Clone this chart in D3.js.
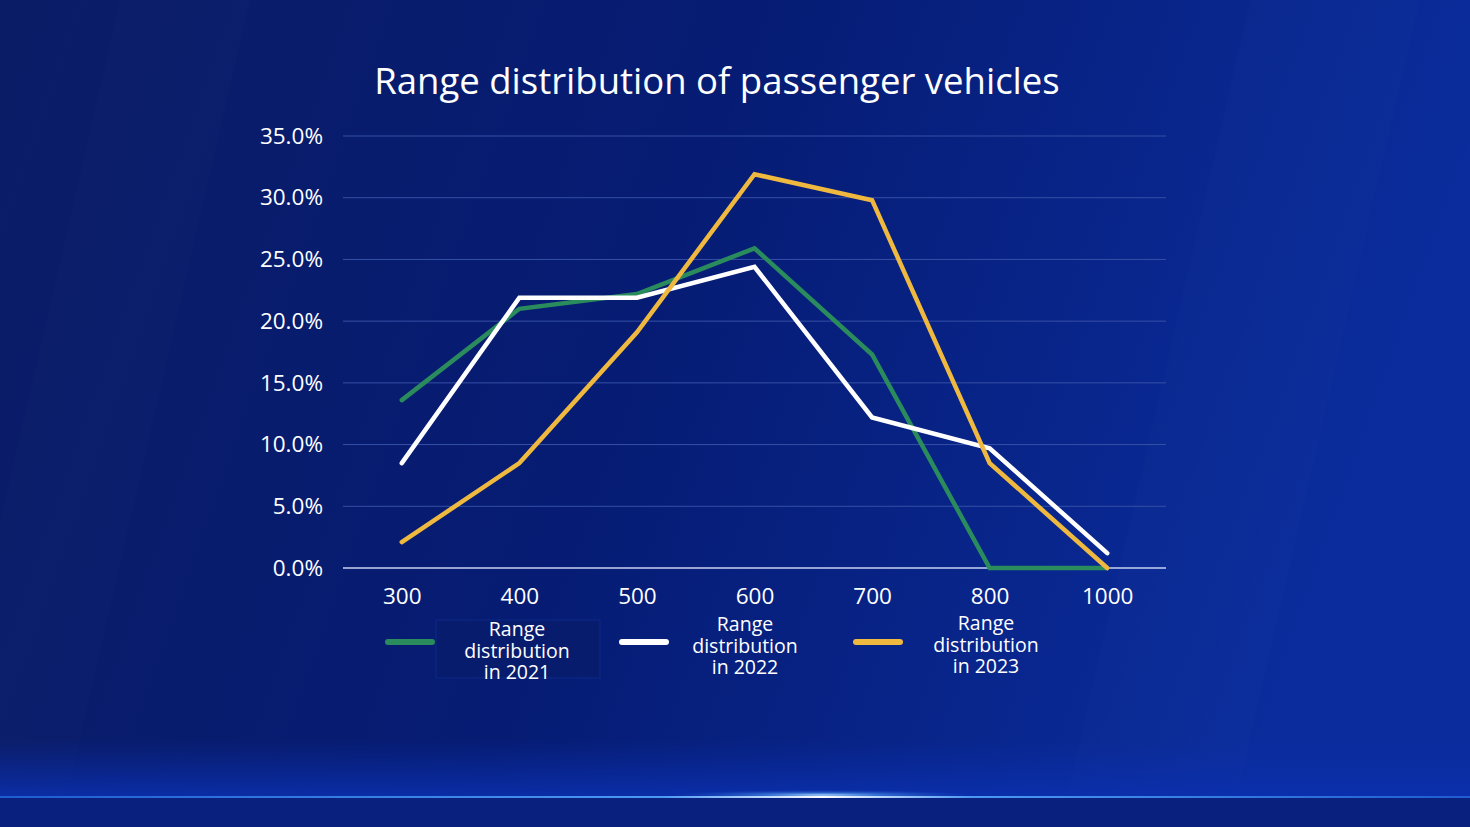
<!DOCTYPE html>
<html>
<head>
    <script src="https://cdnjs.cloudflare.com/ajax/libs/d3/7.8.5/d3.min.js"></script>
    <style>
        html, body { margin: 0; padding: 0; overflow: hidden; }
        body { width: 1470px; height: 827px; }
        text { font-family: "Open Sans", "Noto Sans", sans-serif; fill: #fff; }
        .grid line { stroke: #3550a6; stroke-width: 1px; }
        .series { fill: none; stroke-width: 4.5px; stroke-linejoin: miter; stroke-linecap: round; }
    </style>
</head>
<body>
    <div id="chart"></div>
    <script>
        const width = 1470, height = 827;

        const categories = ["300", "400", "500", "600", "700", "800", "1000"];
        const range2021 = [13.6, 21.0, 22.2, 25.9, 17.3, 0, 0];
        const range2022 = [8.5, 21.9, 21.9, 24.4, 12.2, 9.7, 1.2];
        const range2023 = [2.1, 8.5, 19.1, 31.9, 29.8, 8.5, 0];
        const yTicks = [0, 5, 10, 15, 20, 25, 30, 35];
        const seriesNames = ["Range distribution in 2021", "Range distribution in 2022", "Range distribution in 2023"];
        const seriesColors = ["#2a8c5c", "#ffffff", "#efb83e"];

        const svg = d3.select("#chart").append("svg")
            .attr("width", width).attr("height", height);

        // background
        const defs = svg.append("defs");
        const bg = defs.append("linearGradient").attr("id", "bg")
            .attr("x1", "0%").attr("y1", "0%").attr("x2", "100%").attr("y2", "20%");
        bg.append("stop").attr("offset", "0%").attr("stop-color", "#0b1c66");
        bg.append("stop").attr("offset", "50%").attr("stop-color", "#061c74");
        bg.append("stop").attr("offset", "100%").attr("stop-color", "#0a2c9c");
        const bottom = defs.append("linearGradient").attr("id", "bottom")
            .attr("x1", "0").attr("y1", "0").attr("x2", "0").attr("y2", "1");
        bottom.append("stop").attr("offset", "0%").attr("stop-color", "#0b2ea8").attr("stop-opacity", 0);
        bottom.append("stop").attr("offset", "100%").attr("stop-color", "#0b30b0").attr("stop-opacity", 0.85);
        const glow = defs.append("linearGradient").attr("id", "glow")
            .attr("x1", "0").attr("y1", "0").attr("x2", "1").attr("y2", "0");
        glow.append("stop").attr("offset", "0%").attr("stop-color", "#1f5cd0");
        glow.append("stop").attr("offset", "45%").attr("stop-color", "#4a9af4");
        glow.append("stop").attr("offset", "56%").attr("stop-color", "#ffffff");
        glow.append("stop").attr("offset", "66%").attr("stop-color", "#4a9af4");
        glow.append("stop").attr("offset", "100%").attr("stop-color", "#1f5cd0");
        const halo = defs.append("radialGradient").attr("id", "halo");
        halo.append("stop").attr("offset", "0%").attr("stop-color", "#bfe6ff").attr("stop-opacity", 0.9);
        halo.append("stop").attr("offset", "40%").attr("stop-color", "#5aa8f8").attr("stop-opacity", 0.5);
        halo.append("stop").attr("offset", "100%").attr("stop-color", "#1f5cd0").attr("stop-opacity", 0);

        svg.append("rect").attr("width", width).attr("height", height).attr("fill", "url(#bg)");
        svg.append("path").attr("d", "M120,0 L250,0 L60,827 L-70,827 Z").attr("fill", "#ffffff").attr("opacity", 0.012);
        svg.append("path").attr("d", "M1250,0 L1420,0 L1230,827 L1060,827 Z").attr("fill", "#ffffff").attr("opacity", 0.01);
        svg.append("rect").attr("x", 0).attr("y", 740).attr("width", width).attr("height", 57).attr("fill", "url(#bottom)");
        svg.append("ellipse").attr("cx", 822).attr("cy", 795).attr("rx", 150).attr("ry", 5).attr("fill", "url(#halo)");
        svg.append("rect").attr("x", 0).attr("y", 798).attr("width", width).attr("height", 29).attr("fill", "#09207f");
        svg.append("rect").attr("x", 0).attr("y", 796).attr("width", width).attr("height", 2).attr("fill", "url(#glow)");

        // chart
        const margin = { left: 343, right: 304, top: 136, bottom: 259 };
        const x = d3.scalePoint().domain(categories)
            .range([margin.left, width - margin.right]).padding(0.5);
        const y = d3.scaleLinear().domain([0, 35])
            .range([height - margin.bottom, margin.top]);

        svg.append("text")
            .attr("x", 717).attr("y", 94)
            .attr("text-anchor", "middle")
            .style("font-size", "36.5px")
            .text("Range distribution of passenger vehicles");

        svg.append("g").attr("class", "grid")
            .selectAll("line").data(yTicks.slice(1)).join("line")
            .attr("x1", margin.left).attr("x2", width - margin.right)
            .attr("y1", d => y(d)).attr("y2", d => y(d));

        svg.append("line")
            .attr("x1", margin.left).attr("x2", width - margin.right)
            .attr("y1", y(0)).attr("y2", y(0))
            .attr("stroke", "#c9d2f2").attr("stroke-width", 1.5);

        const yAxis = d3.axisLeft(y).tickValues(yTicks)
            .tickFormat(d => d.toFixed(1) + "%").tickSize(0).tickPadding(20);
        svg.append("g").attr("transform", `translate(${margin.left},0)`)
            .call(yAxis)
            .call(g => g.select(".domain").remove())
            .selectAll("text").style("font-size", "22.5px").attr("fill", "#fff");

        const xAxis = d3.axisBottom(x).tickSize(0).tickPadding(20);
        svg.append("g").attr("transform", `translate(0,${y(0)})`)
            .call(xAxis)
            .call(g => g.select(".domain").remove())
            .selectAll("text").style("font-size", "22.5px").attr("fill", "#fff");

        const line = d3.line().x((d, i) => x(categories[i])).y(d => y(d));
        [range2021, range2022, range2023].forEach((vals, i) => {
            svg.append("path").attr("class", "series")
                .attr("stroke", seriesColors[i])
                .attr("d", line(vals));
        });

        // legend
        const legendItems = [
            { lx: 388, tx: 517, ty: 636 },
            { lx: 622, tx: 745, ty: 631 },
            { lx: 856, tx: 986, ty: 630 }
        ];
        svg.append("rect").attr("x", 436).attr("y", 620).attr("width", 164).attr("height", 58)
            .attr("fill", "#081c6e").attr("stroke", "#0e2888").attr("stroke-width", 1);
        legendItems.forEach((p, i) => {
            svg.append("line")
                .attr("x1", p.lx).attr("x2", p.lx + 44)
                .attr("y1", 642).attr("y2", 642)
                .attr("stroke", seriesColors[i]).attr("stroke-width", 6)
                .attr("stroke-linecap", "round");
            const words = seriesNames[i].split(" ");
            const lines = [words[0], words[1], words[2] + " " + words[3]];
            const t = svg.append("text").attr("text-anchor", "middle")
                .style("font-size", "19.5px");
            lines.forEach((l, k) => {
                t.append("tspan").attr("x", p.tx).attr("y", p.ty + k * 21.5).text(l);
            });
        });
    </script>
</body>
</html>
